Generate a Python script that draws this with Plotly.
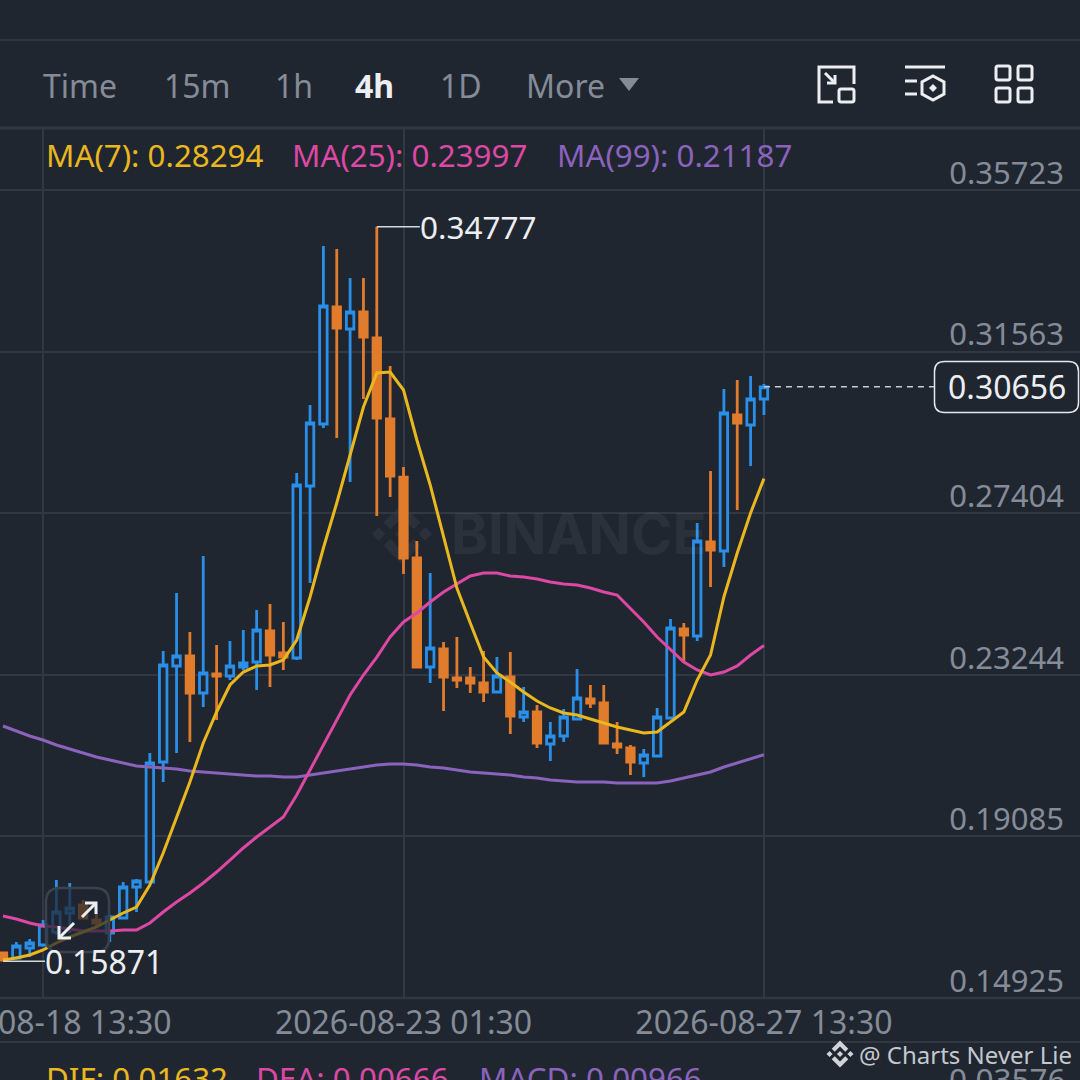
import pandas as pd
import plotly.graph_objects as go
from plotly.subplots import make_subplots

dates = pd.date_range("2026-08-18 01:30", periods=58, freq="4h")

opens = [0.16083, 0.15955, 0.16212, 0.16289, 0.16624, 0.17113, 0.17319, 0.16933, 0.16598, 0.16984,
         0.17782, 0.17911, 0.21000, 0.23471, 0.23728, 0.22776, 0.23265, 0.23213, 0.23445, 0.23574,
         0.24372, 0.23805, 0.23677, 0.28104, 0.29700, 0.32711, 0.32145, 0.32583, 0.31913, 0.29828,
         0.28335, 0.26251, 0.23445, 0.23908, 0.23162, 0.23162, 0.23033, 0.22801, 0.23188, 0.22158,
         0.22287, 0.21463, 0.21669, 0.22106, 0.22621, 0.22518, 0.21463, 0.21360, 0.20974, 0.21154,
         0.22132, 0.24423, 0.24243, 0.26662, 0.26431, 0.29931, 0.29674, 0.30343]
highs = [0.16083, 0.16366, 0.16444, 0.16933, 0.17962, 0.17885, 0.17448, 0.17190, 0.17061, 0.17911,
         0.17988, 0.21231, 0.23857, 0.25350, 0.24346, 0.26302, 0.24011, 0.24114, 0.24397, 0.24912,
         0.25067, 0.24603, 0.28439, 0.30189, 0.34281, 0.34204, 0.33458, 0.33458, 0.34777, 0.31193,
         0.28593, 0.26688, 0.25865, 0.24088, 0.24217, 0.23445, 0.23857, 0.23702, 0.23831, 0.22930,
         0.22467, 0.22029, 0.22364, 0.23393, 0.22982, 0.22982, 0.22029, 0.21437, 0.21334, 0.22390,
         0.24680, 0.24578, 0.27152, 0.28490, 0.30601, 0.30832, 0.30935, 0.30729]
lows = [0.15871, 0.15955, 0.15980, 0.16263, 0.16547, 0.16598, 0.16984, 0.16753, 0.16366, 0.16984,
        0.17139, 0.17911, 0.20485, 0.21231, 0.21514, 0.22415, 0.22081, 0.23110, 0.23368, 0.22853,
        0.22930, 0.23368, 0.23625, 0.25607, 0.29597, 0.29339, 0.28207, 0.30343, 0.27332, 0.27821,
        0.25839, 0.23419, 0.23033, 0.22312, 0.22904, 0.22776, 0.22544, 0.22776, 0.21720, 0.22029,
        0.21360, 0.21025, 0.21514, 0.22081, 0.22390, 0.21489, 0.21206, 0.20665, 0.20614, 0.21128,
        0.22132, 0.23548, 0.24114, 0.25504, 0.26019, 0.27486, 0.28619, 0.29931]
closes = [0.15903, 0.16263, 0.16341, 0.16804, 0.17139, 0.17242, 0.16984, 0.16855, 0.17010, 0.17782,
          0.17937, 0.20974, 0.23496, 0.23728, 0.22776, 0.23291, 0.23213, 0.23471, 0.23548, 0.24397,
          0.23754, 0.23702, 0.28130, 0.29725, 0.32737, 0.32171, 0.32583, 0.31939, 0.29854, 0.28361,
          0.26251, 0.23445, 0.23934, 0.23188, 0.23110, 0.23033, 0.22801, 0.23213, 0.22184, 0.22287,
          0.21489, 0.21669, 0.22158, 0.22647, 0.22518, 0.21489, 0.21386, 0.21000, 0.21180, 0.22158,
          0.24449, 0.24269, 0.26688, 0.26457, 0.29983, 0.29725, 0.30343, 0.30656]

ma7 = [0.15903, 0.15955, 0.16032, 0.16161, 0.16341, 0.16495, 0.16624, 0.16753, 0.16933, 0.17113,
       0.17267, 0.17834, 0.18657, 0.19584, 0.20485, 0.21489, 0.22287, 0.22982, 0.23316, 0.23471,
       0.23496, 0.23625, 0.24140, 0.25247, 0.26508, 0.27666, 0.28902, 0.30137, 0.31013, 0.31038,
       0.30575, 0.29288, 0.28130, 0.26791, 0.25478, 0.24578, 0.23702, 0.23291, 0.23059, 0.22801,
       0.22570, 0.22390, 0.22261, 0.22209, 0.22106, 0.22004, 0.21901, 0.21823, 0.21746, 0.21772,
       0.22029, 0.22287, 0.23110, 0.23754, 0.25247, 0.26379, 0.27409, 0.28294]
ma25 = [0.17036, 0.16958, 0.16855, 0.16778, 0.16753, 0.16701, 0.16650, 0.16650, 0.16650, 0.16675,
        0.16675, 0.16855, 0.17139, 0.17396, 0.17628, 0.17885, 0.18168, 0.18477, 0.18786, 0.19069,
        0.19327, 0.19584, 0.20150, 0.20794, 0.21437, 0.22081, 0.22724, 0.23239, 0.23702, 0.24217,
        0.24603, 0.24835, 0.25118, 0.25375, 0.25581, 0.25787, 0.25865, 0.25865, 0.25787, 0.25762,
        0.25710, 0.25633, 0.25581, 0.25556, 0.25478, 0.25375, 0.25298, 0.24964, 0.24603, 0.24217,
        0.23883, 0.23574, 0.23368, 0.23239, 0.23316, 0.23471, 0.23754, 0.23997]
ma99 = [0.21926, 0.21798, 0.21669, 0.21566, 0.21437, 0.21334, 0.21231, 0.21128, 0.21051, 0.20974,
        0.20897, 0.20871, 0.20845, 0.20819, 0.20768, 0.20742, 0.20717, 0.20691, 0.20665, 0.20639,
        0.20639, 0.20614, 0.20614, 0.20665, 0.20717, 0.20768, 0.20819, 0.20871, 0.20922, 0.20948,
        0.20948, 0.20922, 0.20871, 0.20845, 0.20794, 0.20742, 0.20717, 0.20691, 0.20665, 0.20614,
        0.20588, 0.20536, 0.20511, 0.20485, 0.20485, 0.20485, 0.20459, 0.20459, 0.20459, 0.20459,
        0.20511, 0.20588, 0.20665, 0.20742, 0.20871, 0.20974, 0.21077, 0.21187]

price_ticks = [0.35723, 0.31563, 0.27404, 0.23244, 0.19085, 0.14925]
date_ticks = ["2026-08-18 13:30", "2026-08-23 01:30", "2026-08-27 13:30"]
interval_labels = ["Time", "15m", "1h", "4h", "1D", "More"]

BG = "#1f2630"
GRID = "#303844"
GREY = "#858c98"
WHITE = "#eceef1"
BLUE = "#2a8fe8"
ORANGE = "#e07c2b"
YELLOW = "#eab71f"
PINK = "#dc48a4"
PURPLE = "#8b63bd"
FONT = "Noto Sans"


def px(x, y):
    return f"{x / 1080:.5f},{1 - y / 1080:.5f}"


def path(points, close=False):
    d = "M" + " L".join(px(x, y) for x, y in points)
    return d + " Z" if close else d


def rounded(x0, y0, x1, y1, r):
    return (f"M{px(x0 + r, y0)} L{px(x1 - r, y0)} Q{px(x1, y0)} {px(x1, y0 + r)} "
            f"L{px(x1, y1 - r)} Q{px(x1, y1)} {px(x1 - r, y1)} L{px(x0 + r, y1)} "
            f"Q{px(x0, y1)} {px(x0, y1 - r)} L{px(x0, y0 + r)} Q{px(x0, y0)} {px(x0 + r, y0)} Z")


def paper_shape(d, color=None, fill=None, width=3, layer="above"):
    return dict(type="path", xref="paper", yref="paper", path=d, layer=layer,
                fillcolor=fill or "rgba(0,0,0,0)",
                line=dict(color=color or "rgba(0,0,0,0)", width=width if color else 0))


def logo(cx, cy, r, fill, layer="above"):
    top = [(-.388, -.16), (0, -.549), (.389, -.16), (.615, -.386), (0, -1), (-.615, -.386)]
    pieces = [top, [(x, -y) for x, y in top]]
    for c in (-.774, 0, .774):
        pieces.append([(c - .226, 0), (c, -.226), (c + .226, 0), (c, .226)])
    return [paper_shape(path([(cx + x * r, cy + y * r) for x, y in p], True), fill=fill, layer=layer)
            for p in pieces]


def text(x, y, s, color, size, anchor="left", weight="normal", family=FONT):
    return dict(xref="paper", yref="paper", x=x / 1080, y=1 - y / 1080, text=s, showarrow=False,
                xanchor=anchor, yanchor="middle", borderpad=0,
                font=dict(color=color, size=size, family=family, weight=weight))


fig = make_subplots(rows=2, cols=1)

fig.add_trace(go.Candlestick(
    x=dates, open=opens, high=highs, low=lows, close=closes,
    increasing=dict(line=dict(color=BLUE, width=2.8), fillcolor=BG),
    decreasing=dict(line=dict(color=ORANGE, width=2.8), fillcolor=ORANGE),
    hoverinfo="skip",
), row=1, col=1)

for values, color, name in [(ma99, PURPLE, "MA(99)"), (ma25, PINK, "MA(25)"), (ma7, YELLOW, "MA(7)")]:
    fig.add_trace(go.Scatter(x=dates, y=values, mode="lines", name=name, hoverinfo="skip",
                             line=dict(color=color, width=3)), row=1, col=1)

# separators and header icons, all in page pixels
shapes = []
for y, w in [(40, 1.5), (128, 3), (998, 2.5), (1042, 2)]:
    shapes.append(paper_shape(path([(0, y), (1080, y)]), color=GRID, width=w, layer="below"))
shapes += logo(402, 534, 30, "#2a313c", layer="below")

# icon 1
shapes.append(paper_shape(path([(854, 84), (854, 67), (819, 67), (819, 102), (833, 102)]), color=WHITE))
shapes.append(paper_shape(rounded(839, 89, 854, 102, 2), color=WHITE))
shapes.append(paper_shape(path([(825, 73), (835, 83)]), color=WHITE))
shapes.append(paper_shape(path([(835, 75), (835, 83), (827, 83)]), color=WHITE))
# icon 2
shapes.append(paper_shape(path([(905, 67), (945, 67)]), color=WHITE))
shapes.append(paper_shape(path([(905, 81), (917, 81)]), color=WHITE))
shapes.append(paper_shape(path([(905, 94), (917, 94)]), color=WHITE))
shapes.append(paper_shape(path([(933, 76), (944, 82), (944, 94), (933, 100), (922, 94), (922, 82)], True),
                          color=WHITE))
shapes.append(paper_shape(path([(933, 84), (937, 88), (933, 92), (929, 88)], True), fill=WHITE))
# icon 3
for x0, y0 in [(996, 66), (1018, 66), (996, 88), (1018, 88)]:
    shapes.append(paper_shape(rounded(x0, y0, x0 + 14, y0 + 14, 2), color=WHITE))
# More triangle
shapes.append(paper_shape(path([(619, 78), (639, 78), (629, 91)], True), fill=GREY))

# fullscreen button over the candles
shapes.append(paper_shape(rounded(46, 888, 109, 952, 14), color="#3a424e", fill="rgba(31,38,48,0.72)", width=2.5))
shapes.append(paper_shape(path([(82, 917), (96, 903)]), color=WHITE))
shapes.append(paper_shape(path([(85, 903), (96, 903), (96, 914)]), color=WHITE))
shapes.append(paper_shape(path([(59, 938), (74, 923)]), color=WHITE))
shapes.append(paper_shape(path([(59, 926), (59, 938), (71, 938)]), color=WHITE))

# min/max leaders and last price line
hi = max(highs)
lo = min(lows)
leader = dict(type="line", xref="x", yref="y", xsizemode="pixel", line=dict(color="#d5d8dc", width=1.5))
shapes.append(dict(leader, xanchor=dates[highs.index(hi)], x0=0, x1=43, y0=hi, y1=hi))
shapes.append(dict(leader, xanchor=dates[lows.index(lo)], x0=0, x1=42, y0=lo, y1=lo))
shapes.append(dict(type="line", xref="x", yref="y", xsizemode="pixel", xanchor=dates[-1], x0=0, x1=170,
                   y0=closes[-1], y1=closes[-1], line=dict(color="#c9cdd2", width=1.5, dash="6px,5px")))
shapes.append(paper_shape(rounded(934.5, 361.5, 1078.5, 412.5, 10), color="#e6e8eb", fill=BG, width=1.5))
shapes += logo(840, 1054, 13.5, "#d0d3d8")

annotations = [
    text(42, 86, interval_labels[0], GREY, 32),
    text(163, 86, interval_labels[1], GREY, 32),
    text(274, 86, interval_labels[2], GREY, 32),
    text(354, 86, interval_labels[3], WHITE, 32, weight="bold"),
    text(439, 86, interval_labels[4], GREY, 32),
    text(525, 86, interval_labels[5], GREY, 32),
    text(45, 155, f"MA(7): {ma7[-1]:.5f}", YELLOW, 31.3),
    text(291, 155, f"MA(25): {ma25[-1]:.5f}", PINK, 31.3),
    text(556, 155, f"MA(99): {ma99[-1]:.5f}", PURPLE, 31.3),
    text(578, 534, "BINANCE", "rgba(255,255,255,0.05)", 56, anchor="center", weight="bold", family="Inter"),
    text(45, 1078, "DIF: 0.01632", YELLOW, 31.3),
    text(255, 1078, "DEA: 0.00666", PINK, 31.3),
    text(478, 1078, "MACD: 0.00966", PURPLE, 31.3),
    text(1067, 1078, "0.03576", GREY, 31.5, anchor="right"),
    text(1073, 1054, "@ Charts Never Lie", "#c4c8ce", 24, anchor="right"),
    dict(xref="x", yref="y", x=dates[highs.index(hi)], y=hi, xshift=41, text=f"{hi:.5f}", showarrow=False,
         xanchor="left", yanchor="middle", font=dict(color=WHITE, size=31.5, family=FONT)),
    dict(xref="x", yref="y", x=dates[lows.index(lo)], y=lo, xshift=40, text=f"{lo:.5f}", showarrow=False,
         xanchor="left", yanchor="middle", font=dict(color=WHITE, size=32, family=FONT)),
    dict(xref="paper", yref="y", x=1007 / 1080, y=closes[-1], text=f"{closes[-1]:.5f}", showarrow=False,
         xanchor="center", yanchor="middle", font=dict(color=WHITE, size=32, family=FONT)),
]

x_range = ["2026-08-18 00:36", "2026-08-31 12:12"]

fig.update_layout(
    width=1080, height=1080, margin=dict(l=0, r=0, t=0, b=0, autoexpand=False),
    paper_bgcolor=BG, plot_bgcolor=BG, showlegend=False, boxgap=0.2,
    shapes=shapes, annotations=annotations,
    xaxis=dict(domain=[0, 1], anchor="y", range=x_range, rangeslider=dict(visible=False), automargin=False,
               tickvals=date_ticks, ticktext=date_ticks, ticks="", ticklabeloverflow="allow",
               tickfont=dict(color=GREY, size=32, family=FONT), ticklabelstandoff=3,
               showgrid=True, gridcolor=GRID, gridwidth=1.5, zeroline=False, showline=False),
    yaxis=dict(domain=[82 / 1080, 952 / 1080], anchor="x", side="right", range=[0.14925, 0.37319],
               automargin=False, tickvals=price_ticks, ticktext=[f"{v:.5f}" for v in price_ticks],
               ticklabelposition="inside", ticklabeloverflow="allow", ticklabelstandoff=13, ticklabelshift=-17,
               tickfont=dict(color=GREY, size=31, family=FONT), ticks="",
               showgrid=True, gridcolor=GRID, gridwidth=1.5, zeroline=False, showline=False),
    xaxis2=dict(domain=[0, 1], anchor="y2", range=x_range, tickvals=date_ticks, showticklabels=False,
                automargin=False, ticks="", showgrid=True, gridcolor=GRID, gridwidth=1.5, zeroline=False),
    yaxis2=dict(domain=[0, 37 / 1080], anchor="x2", automargin=False, showgrid=False, showticklabels=False,
                ticks="", zeroline=False),
)

fig.write_html("out.html", config=dict(displayModeBar=False),
               post_script="document.body.style.margin='0';")
